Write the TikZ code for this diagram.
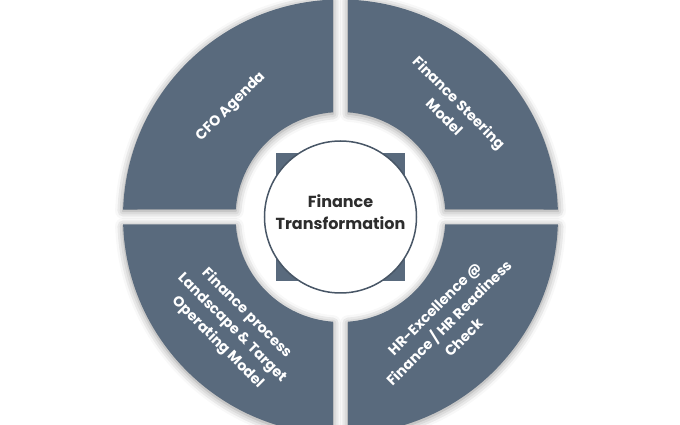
\documentclass[tikz,border=0pt]{standalone}
\usepackage{fontspec}
\setmainfont{Poppins}
\usetikzlibrary{shadows.blur}
\definecolor{slate}{RGB}{89,106,125}
\definecolor{ctext}{RGB}{45,45,45}
\definecolor{cline}{RGB}{72,86,102}
\begin{document}
\begin{tikzpicture}[x=1pt,y=1pt,
  quad/.style={fill=slate, blur shadow={shadow xshift=0pt, shadow yshift=-1.5pt, shadow blur radius=8pt, shadow opacity=45}},
  qlabel/.style={text=white, font=\bfseries\fontsize{14.3}{20.5}\selectfont, align=center, inner sep=0pt},
  ]
\useasboundingbox (-340.5,-208) rectangle (339.5,217);
\foreach \r in {0,90,180,270}{
  \fill[quad, rotate=\r] (88.024:217.5) -- (85.904:105) arc[start angle=85.904, end angle=4.096, radius=105] -- (1.976:217.5) arc[start angle=1.976, end angle=88.024, radius=217.5] -- cycle;
}
\node[fill=slate, minimum size=128pt, inner sep=0pt] (sq) at (0,0.3) {};
\node[circle, fill=white, draw=cline, line width=1.5pt, minimum size=152pt, inner sep=0pt] (core) at (0,0) {};
\node[text=ctext, font=\bfseries\fontsize{16}{22}\selectfont, align=center] (title) at (0,4.5) {Finance\\Transformation};
\node[qlabel, rotate=45] (cfo) at (-109.5,110) {CFO Agenda};
\node[qlabel, rotate=-45] (fsm) at (111.5,107.5) {Finance Steering\\Model};
\node[qlabel, rotate=-45] (fpl) at (-108.5,-111) {Finance process\\Landscape \& Target\\Operating Model};
\node[qlabel, rotate=45] (hre) at (108.5,-106) {HR-Excellence @\\Finance / HR Readiness\\Check};
\end{tikzpicture}
\end{document}
